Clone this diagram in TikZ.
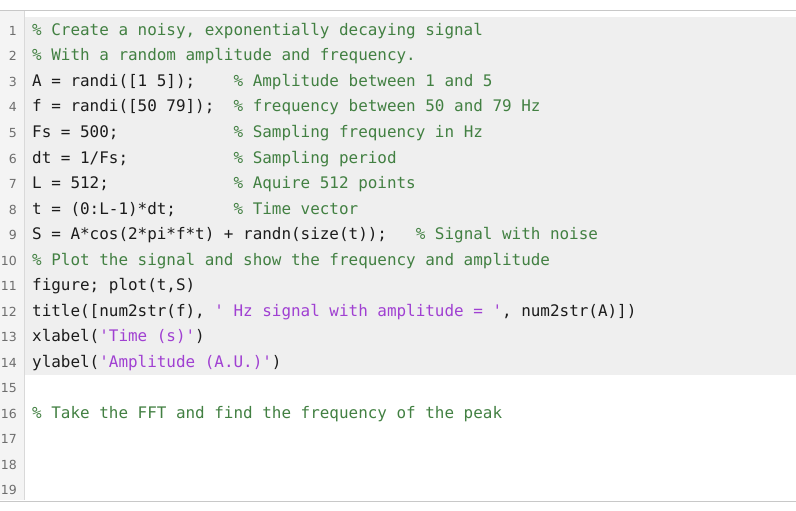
\documentclass[tikz,border=0pt]{standalone}
\usepackage{fontspec}
\setmonofont{DejaVu Sans Mono}
\newfontfamily\numfont{DejaVu Sans}
\usepackage{xcolor}
\usepackage{tikz}

\definecolor{cmtgreen}{RGB}{66,128,66}
\definecolor{strpurple}{RGB}{160,64,210}
\definecolor{codeblack}{RGB}{28,28,28}
\definecolor{numgray}{RGB}{110,110,110}
\definecolor{codebg}{RGB}{239,239,239}
\definecolor{gutterbg}{RGB}{244,244,244}
\definecolor{rulegray}{RGB}{200,200,200}

\tikzset{
  codeline/.style={anchor=base west, inner sep=0pt, text=codeblack,
    font=\ttfamily\fontsize{15.93}{19}\selectfont\frenchspacing},
  cmt/.style={codeline, text=cmtgreen},
  lnum/.style={anchor=base east, inner sep=0pt, text=numgray,
    font=\numfont\fontsize{12.5}{15}\selectfont},
}

\begin{document}
\begin{tikzpicture}[x=1pt, y=-1pt]
        \useasboundingbox (0,0) rectangle (796,511);
        \fill [gutterbg]            (0,11) rectangle (24,500);          %gutter
        \fill [codebg]              (25,17.5) rectangle (796,374.5);    %cell
        \draw [rulegray, line width=1pt] (0,10.5) -- (796,10.5);       %
        \draw [rulegray, line width=1pt] (0,501)  -- (796,501);        %
        \draw [gray!30, line width=1pt]  (24.5,11) -- (24.5,500);      %

        \node [lnum] (n1)  at (17,35.5)  {1};                          %
        \node [lnum] (n2)  at (17,61)    {2};                          %
        \node [lnum] (n3)  at (17,86.5)  {3};                          %
        \node [lnum] (n4)  at (17,112)   {4};                          %
        \node [lnum] (n5)  at (17,137.5) {5};                          %
        \node [lnum] (n6)  at (17,163)   {6};                          %
        \node [lnum] (n7)  at (17,188.5) {7};                          %
        \node [lnum] (n8)  at (17,214)   {8};                          %
        \node [lnum] (n9)  at (17,239.5) {9};                          %
        \node [lnum] (n10) at (17,265)   {10};                         %
        \node [lnum] (n11) at (17,290.5) {11};                         %
        \node [lnum] (n12) at (17,316)   {12};                         %
        \node [lnum] (n13) at (17,341.5) {13};                         %
        \node [lnum] (n14) at (17,367)   {14};                         %
        \node [lnum] (n15) at (17,392.5) {15};                         %
        \node [lnum] (n16) at (17,418)   {16};                         %
        \node [lnum] (n17) at (17,443.5) {17};                         %
        \node [lnum] (n18) at (17,469)   {18};                         %
        \node [lnum] (n19) at (17,494.5) {19};                         %

        \node [cmt]      (c1)  at (32,35.5)    {\% Create a noisy, exponentially decaying signal};
        \node [cmt]      (c2)  at (32,61)      {\% With a random amplitude and frequency.};
        \node [codeline] (c3)  at (32,86.5)    {A = randi([1 5]);};
        \node [cmt]      (k3)  at (233.4,86.5) {\% Amplitude between 1 and 5};
        \node [codeline] (c4)  at (32,112)     {f = randi([50 79]);};
        \node [cmt]      (k4)  at (233.4,112)  {\% frequency between 50 and 79 Hz};
        \node [codeline] (c5)  at (32,137.5)   {Fs = 500;};
        \node [cmt]      (k5)  at (233.4,137.5){\% Sampling frequency in Hz};
        \node [codeline] (c6)  at (32,163)     {dt = 1/Fs;};
        \node [cmt]      (k6)  at (233.4,163)  {\% Sampling period};
        \node [codeline] (c7)  at (32,188.5)   {L = 512;};
        \node [cmt]      (k7)  at (233.4,188.5){\% Aquire 512 points};
        \node [codeline] (c8)  at (32,214)     {t = (0:L-1)*dt;};
        \node [cmt]      (k8)  at (233.4,214)  {\% Time vector};
        \node [codeline] (c9)  at (32,239.5)   {S = A*cos(2*pi*f*t) + randn(size(t));};
        \node [cmt]      (k9)  at (415.6,239.5){\% Signal with noise};
        \node [cmt]      (c10) at (32,265)     {\% Plot the signal and show the frequency and amplitude};
        \node [codeline] (c11) at (32,290.5)   {figure; plot(t,S)};
        \node [codeline] (c12) at (32,316)     {title([num2str(f), \textcolor{strpurple}{' Hz signal with amplitude = '}, num2str(A)])};
        \node [codeline] (c13) at (32,341.5)   {xlabel(\textcolor{strpurple}{'Time (s)'})};
        \node [codeline] (c14) at (32,367)     {ylabel(\textcolor{strpurple}{'Amplitude (A.U.)'})};
        \node [cmt]      (c16) at (32,418)     {\% Take the FFT and find the frequency of the peak};
\end{tikzpicture}
\end{document}
